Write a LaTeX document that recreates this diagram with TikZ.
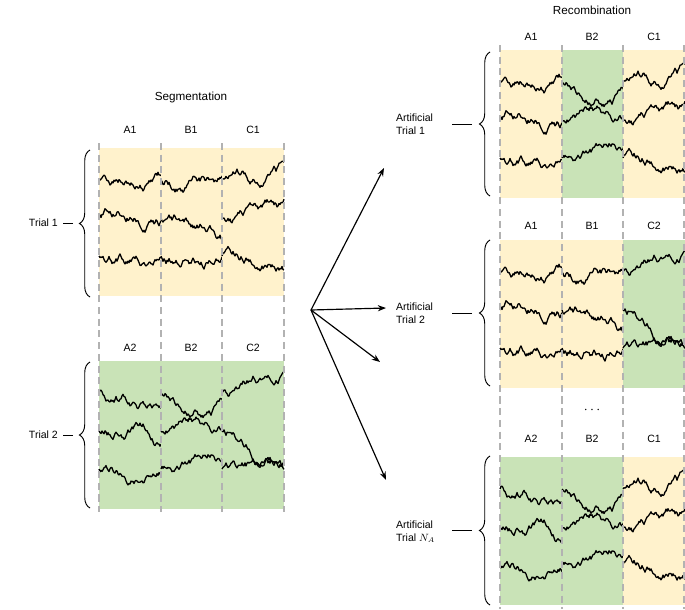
\documentclass[tikz,border=0pt]{standalone}
\usepackage{fontspec}
\setmainfont{Liberation Sans}
\usetikzlibrary{decorations.pathreplacing,arrows.meta}
\definecolor{yel}{HTML}{FFF2CC}
\definecolor{grn}{HTML}{C9E3B7}
\tikzset{
  sig/.style={line width=1.1pt, line join=round},
  brc/.style={decorate, decoration={brace, amplitude=9pt}, line width=0.8pt},
  gdash/.style={gray!60, dashed, line width=1pt, dash pattern=on 6pt off 4pt},
  lbl/.style={font=\small},
  arr/.style={-{Stealth[length=7pt]}, line width=1pt}
}
% segment: x0, ytop, seed, color
\newcommand{\segblk}[4]{%
  \fill[#4] (#1,#2) rectangle ++(62,148);
  \pgfmathsetseed{#3}
  \foreach \off in {32,70,108}{
    \draw[sig] (#1,#2+\off) \foreach \i in {1,...,62}{ -- ++(1,{3.2*rand}) };
  }
}
\begin{document}
\begin{tikzpicture}[x=0.03cm,y=-0.03cm]
\useasboundingbox (0,0) rectangle (685,609);
% ---- left
\node[font=\normalsize] (seg) at (191,97) {Segmentation};
\segblk{99}{148}{11}{yel}
\segblk{161}{148}{12}{yel}
\segblk{222}{148}{13}{yel}
\segblk{99}{361}{21}{grn}
\segblk{161}{361}{22}{grn}
\segblk{222}{361}{23}{grn}
\foreach \x in {99,161,222,284}{\draw[gdash] (\x,143) -- (\x,512);}
\foreach \t/\x in {A1/130,B1/191,C1/253}{\node[lbl] (l1\t) at (\x,130) {\t};}
\foreach \t/\x in {A2/130,B2/191,C2/253}{\node[lbl] (l2\t) at (\x,348) {\t};}
\draw[brc] (90,297) -- (90,150);
\draw[line width=0.8pt] (73,223) -- (63,223);
\node[lbl,anchor=east] (t1) at (62,223) {Trial 1};
\draw[brc] (90,508) -- (90,362);
\draw[line width=0.8pt] (73,435) -- (63,435);
\node[lbl,anchor=east] (t2) at (62,435) {Trial 2};
% ---- arrows
\coordinate (o) at (311,310);
\coordinate (e1) at (384,168);
\coordinate (e2) at (386,308);
\coordinate (e3) at (380,362);
\coordinate (e4) at (386,480);
\foreach \e in {e1,e2,e3,e4}{\draw[arr] (o) -- (\e);}
% ---- right
\node[font=\normalsize] (rec) at (592,10) {Recombination};
\segblk{500}{50}{11}{yel}
\segblk{562}{50}{22}{grn}
\segblk{623}{50}{13}{yel}
\segblk{500}{240}{11}{yel}
\segblk{562}{240}{12}{yel}
\segblk{623}{240}{23}{grn}
\segblk{500}{457}{21}{grn}
\segblk{562}{457}{22}{grn}
\segblk{623}{457}{13}{yel}
\foreach \x in {500,562,623,684}{\draw[gdash] (\x,45) -- (\x,609);}
\foreach \t/\x in {A1/531,B2/592,C1/654}{\node[lbl] (r1\t) at (\x,37) {\t};}
\foreach \t/\x in {A1/531,B1/592,C2/654}{\node[lbl] (r2\t) at (\x,226) {\t};}
\foreach \t/\x in {A2/531,B2/592,C1/654}{\node[lbl] (r3\t) at (\x,439) {\t};}
\node[font=\large] (dots) at (592,410) {$\cdots$};
\draw[brc] (490,196) -- (490,52);
\draw[line width=0.8pt] (472,124) -- (452,124);
\node[lbl,anchor=west,align=left] (a1) at (392,124) {Artificial\\Trial 1};
\draw[brc] (490,386) -- (490,240);
\draw[line width=0.8pt] (472,313) -- (452,313);
\node[lbl,anchor=west,align=left] (a2) at (392,313) {Artificial\\Trial 2};
\draw[brc] (490,605) -- (490,456);
\draw[line width=0.8pt] (472,530) -- (452,530);
\node[lbl,anchor=west,align=left] (a3) at (392,532) {Artificial\\Trial $N_A$};
\end{tikzpicture}
\end{document}
